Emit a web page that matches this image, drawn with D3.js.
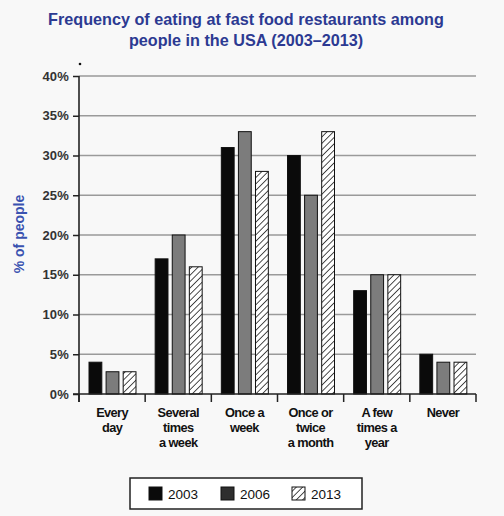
<!DOCTYPE html>
<html><head><meta charset="utf-8">
<script src="https://cdn.jsdelivr.net/npm/d3@7/dist/d3.min.js"></script>
<style>
html,body{margin:0;padding:0;background:#f8f8f8;}
svg{display:block;font-family:"Liberation Sans",Arial,sans-serif;}
</style></head>
<body>
<svg id="chart" width="504" height="516"></svg>
<script>
const categories = [["Every","day"],["Several","times","a week"],["Once a","week"],["Once or","twice","a month"],["A few","times a","year"],["Never"]];
const seriesNames = ["2003","2006","2013"];
const values2003 = [4, 17, 31, 30, 13, 5];
const values2006 = [2.8, 20, 33, 25, 15, 4];
const values2013 = [2.8, 16, 28, 33, 15, 4];
const yTicks = [0,5,10,15,20,25,30,35,40];

(function(){
const svg = d3.select("#chart");
svg.append("rect").attr("width",504).attr("height",516).attr("fill","#f8f8f8");

const defs = svg.append("defs");
const pat = defs.append("pattern").attr("id","hatch").attr("patternUnits","userSpaceOnUse")
  .attr("width",4.5).attr("height",4.5).attr("patternTransform","rotate(45)");
pat.append("rect").attr("width",4.5).attr("height",4.5).attr("fill","#fff");
pat.append("line").attr("x1",0).attr("y1",0).attr("x2",0).attr("y2",4.5).attr("stroke","#222").attr("stroke-width",1.6);

const pLeft = 79, pRight = 476, pTop = 76, pBottom = 394;
const x = d3.scaleBand().domain(d3.range(categories.length)).range([pLeft,pRight]).padding(0);
const x1 = d3.scaleBand().domain(seriesNames).range([10,57]).paddingInner(0.25);
const y = d3.scaleLinear().domain([0,40]).range([pBottom,pTop]);

// title
const title = svg.append("text").attr("text-anchor","middle").attr("fill","#2c3a92")
  .attr("font-weight","bold").attr("font-size",16.2);
title.append("tspan").attr("x",246).attr("y",25).text("Frequency of eating at fast food restaurants among");
title.append("tspan").attr("x",246).attr("y",45.5).text("people in the USA (2003\u20132013)");

svg.append("circle").attr("cx",80).attr("cy",64).attr("r",1.3).attr("fill","#111");

// gridlines
svg.append("g").selectAll("line").data(yTicks.filter(d=>d>0)).join("line")
  .attr("x1",pLeft).attr("x2",pRight).attr("y1",d=>y(d)).attr("y2",d=>y(d))
  .attr("stroke","#9a9a9a").attr("stroke-width",1.3);

// y axis
const yAxis = svg.append("g").attr("transform",`translate(${pLeft},0)`)
  .call(d3.axisLeft(y).tickValues(yTicks).tickFormat(d=>d+"%").tickSize(6).tickPadding(4));
yAxis.select(".domain").remove();
yAxis.selectAll(".tick line").attr("stroke","#222").attr("stroke-width",1.5);
yAxis.selectAll(".tick text").attr("font-size",13).attr("font-weight","bold").attr("fill","#333")
  .attr("font-family","Liberation Sans, Arial, sans-serif").attr("letter-spacing","0.2");
svg.append("line").attr("x1",pLeft).attr("x2",pLeft).attr("y1",pTop).attr("y2",pBottom+8)
  .attr("stroke","#222").attr("stroke-width",1.6);

// y title
svg.append("text").attr("transform","translate(24,234) rotate(-90)").attr("text-anchor","middle")
  .attr("fill","#3a52b0").attr("font-weight","bold").attr("font-size",14).text("% of people");

// bars
const series = [
  {name:"2003", vals:values2003, fill:"#0a0a0a"},
  {name:"2006", vals:values2006, fill:"#7c7c7c"},
  {name:"2013", vals:values2013, fill:"url(#hatch)"}
];
series.forEach(s=>{
  svg.append("g").selectAll("rect").data(s.vals).join("rect")
    .attr("x",(d,i)=>x(i)+x1(s.name)).attr("width",x1.bandwidth())
    .attr("y",d=>y(d)).attr("height",d=>pBottom-y(d))
    .attr("fill",s.fill).attr("stroke","#111").attr("stroke-width",1);
});

// x axis
svg.append("line").attr("x1",pLeft-6).attr("x2",pRight).attr("y1",pBottom).attr("y2",pBottom)
  .attr("stroke","#222").attr("stroke-width",1.6);
svg.append("g").selectAll("line").data(d3.range(categories.length+1)).join("line")
  .attr("x1",i=>pLeft+i*x.bandwidth()).attr("x2",i=>pLeft+i*x.bandwidth())
  .attr("y1",pBottom).attr("y2",pBottom+8).attr("stroke","#222").attr("stroke-width",1.5);

const labels = svg.append("g").selectAll("text").data(categories).join("text")
  .attr("text-anchor","middle").attr("font-weight","bold").attr("font-size",12.8)
  .attr("letter-spacing","-0.6").attr("fill","#111");
labels.each(function(lines,i){
  const t = d3.select(this);
  lines.forEach((ln,j)=>{
    t.append("tspan").attr("x",x(i)+x.bandwidth()/2).attr("y",417+j*15).text(ln);
  });
});

// legend
const lg = svg.append("g");
lg.append("rect").attr("x",130).attr("y",478).attr("width",232).attr("height",31)
  .attr("fill","#fff").attr("stroke","#222").attr("stroke-width",1.5);
const legendItems = [
  {name:seriesNames[0], fill:"#0a0a0a", sx:149, tx:168},
  {name:seriesNames[1], fill:"#2e2e2e", sx:221, tx:240},
  {name:seriesNames[2], fill:"url(#hatch)", sx:292, tx:311}
];
legendItems.forEach(it=>{
  lg.append("rect").attr("x",it.sx).attr("y",487).attr("width",13).attr("height",13)
    .attr("fill",it.fill).attr("stroke","#111").attr("stroke-width",1);
  lg.append("text").attr("x",it.tx).attr("y",499).attr("font-size",13.5).attr("fill","#111").text(it.name);
});
})();
</script>
</body></html>
